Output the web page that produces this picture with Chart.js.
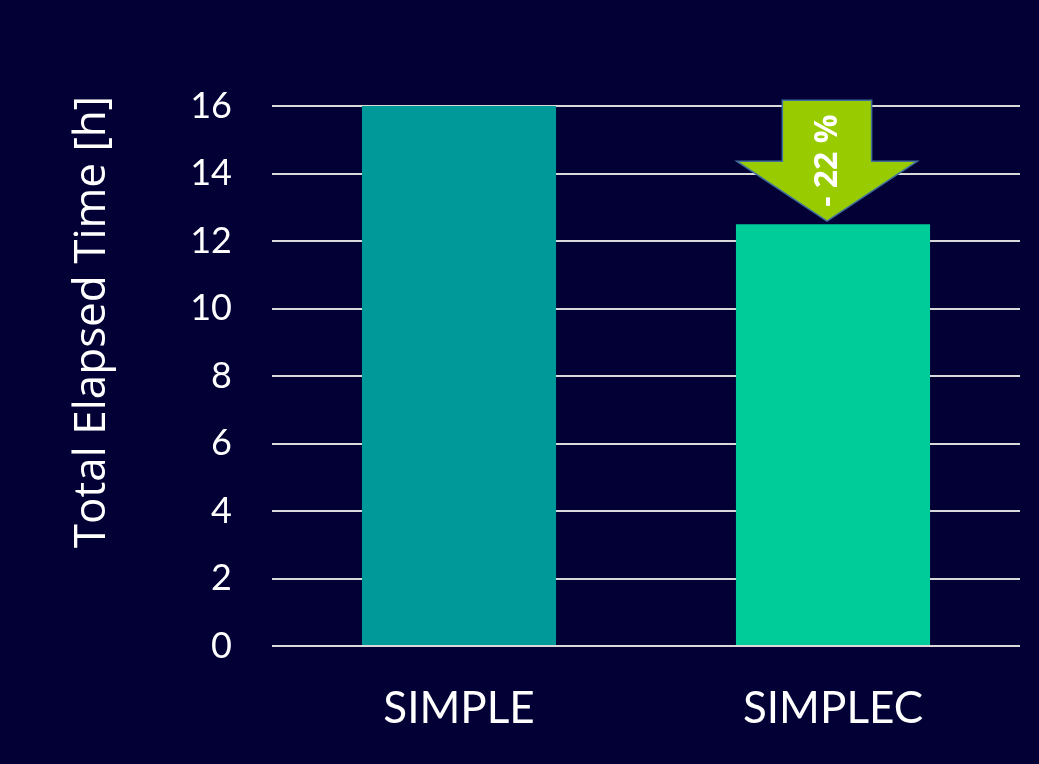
<!DOCTYPE html>
<html>
<head>
<meta charset="utf-8">
<script src="https://cdn.jsdelivr.net/npm/chart.js@4"></script>
<style>
html,body{margin:0;padding:0;background:#030036;}
#wrap{width:1039px;height:764px;position:relative;}
</style>
</head>
<body>
<div id="wrap"><canvas id="c"></canvas></div>
<script>
const categories = ["SIMPLE", "SIMPLEC"];
const elapsedHours = [16.08, 12.5];
const barColors = ["#009999", "#00CC99"];
const yTicks = [0, 2, 4, 6, 8, 10, 12, 14, 16];
const axisTitle = "Total Elapsed Time [h]";
const reductionLabel = "- 22 %";
const FONT = "Lato, 'Open Sans', sans-serif";
const FONT2 = "'Open Sans', Lato, sans-serif";

const arrowPlugin = {
  id: "arrow",
  afterDatasetsDraw(chart) {
    const ctx = chart.ctx;
    const meta = chart.getDatasetMeta(0);
    const bar = meta.data[1];
    const x = bar.x - 6;
    const bw = bar.width;
    const tipY = bar.y - 3;
    const headY = tipY - 60;
    const topY = tipY - 121;
    const sh = bw * 0.23, hh = bw * 0.465;
    ctx.save();
    ctx.beginPath();
    ctx.moveTo(x - sh, topY);
    ctx.lineTo(x + sh, topY);
    ctx.lineTo(x + sh, headY);
    ctx.lineTo(x + hh, headY);
    ctx.lineTo(x, tipY);
    ctx.lineTo(x - hh, headY);
    ctx.lineTo(x - sh, headY);
    ctx.closePath();
    ctx.fillStyle = "#99CC00";
    ctx.fill();
    ctx.lineWidth = 1.5;
    ctx.strokeStyle = "#41719C";
    ctx.stroke();
    ctx.translate(x + 1, (topY + tipY) / 2 + 0);
    ctx.rotate(-Math.PI / 2);
    ctx.fillStyle = "#FFFFFF";
    ctx.font = "bold 32px " + FONT2;
    ctx.textAlign = "center";
    ctx.textBaseline = "middle";
    ctx.fillText(reductionLabel, 0, 0);
    ctx.restore();
  }
};

const titlePlugin = {
  id: "ytitle",
  afterDraw(chart) {
    const ctx = chart.ctx;
    ctx.save();
    ctx.translate(92, 322);
    ctx.rotate(-Math.PI / 2);
    ctx.fillStyle = "#FFFFFF";
    ctx.font = "44px " + FONT2;
    ctx.textAlign = "center";
    ctx.textBaseline = "middle";
    ctx.fillText(axisTitle, 0, 0);
    ctx.restore();
  }
};

new Chart(document.getElementById("c"), {
  type: "bar",
  data: {
    labels: categories,
    datasets: [{
      data: elapsedHours,
      backgroundColor: barColors,
      borderWidth: 0,
      categoryPercentage: 1,
      barPercentage: 0.519
    }]
  },
  options: {
    responsive: true,
    maintainAspectRatio: false,
    animation: false,
    devicePixelRatio: 1,
    layout: { padding: { top: 106, right: 19, left: 0, bottom: 0 } },
    plugins: { legend: { display: false }, tooltip: { enabled: false } },
    scales: {
      x: {
        offset: true,
        grid: { display: false, drawTicks: false },
        border: { display: false },
        ticks: { color: "#FFFFFF", font: { family: FONT, size: 44 }, padding: 36 },
        afterFit(s) { s.height = 118; }
      },
      y: {
        min: 0, max: 16,
        afterBuildTicks(s) { s.ticks = yTicks.map(v => ({ value: v })); },
        grid: { color: "#D9D9D9", lineWidth: 2, drawTicks: false },
        border: { display: false },
        ticks: { color: "#FFFFFF", font: { family: FONT, size: 36 }, padding: 40 },
        afterFit(s) { s.width = 272; }
      }
    }
  },
  plugins: [arrowPlugin, titlePlugin]
});
</script>
</body>
</html>
